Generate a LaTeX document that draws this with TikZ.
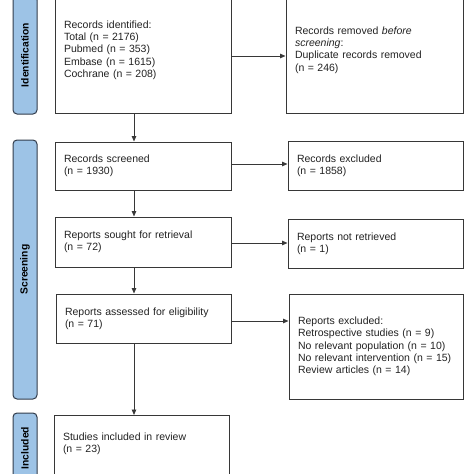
\documentclass[tikz,border=0pt]{standalone}
\usepackage{fontspec}
\setmainfont{Liberation Sans}
\usetikzlibrary{arrows.meta}
\definecolor{barfill}{RGB}{157,195,230}
\definecolor{barline}{RGB}{50,60,75}
\definecolor{boxline}{RGB}{55,55,55}
\definecolor{txt}{RGB}{35,35,35}
\begin{document}
\begin{tikzpicture}[x=1pt,y=-1pt,
  box/.style={draw=boxline, line width=1pt, fill=white, rectangle, align=left,
    inner xsep=9pt, inner ysep=3pt, font=\fontsize{10.5}{12.3}\selectfont, text=txt},
  bar/.style={draw=barline, line width=1pt, fill=barfill, rounded corners=4pt},
  phase/.style={rotate=90, font=\bfseries\fontsize{10.3}{12}\selectfont, text=black},
  arr/.style={draw=boxline, line width=0.9pt, -{Triangle[length=5.5pt,width=4.5pt]}}]
\path[use as bounding box] (0,0) rectangle (474,474);
\clip (0,0) rectangle (474,474);
\fill[white] (0,0) rectangle (474,474);
% phase bars
\draw[bar] (13,-4) rectangle (37,114);
\draw[bar] (13,140) rectangle (37,399);
\draw[bar] (13,413) rectangle (37,484);
\node[phase] (pid) at (25,55) {Identification};
\node[phase] (psc) at (25,269.5) {Screening};
\node[phase] (pin) at (25,448) {Included};
% boxes
\node[box, text width=158pt, minimum height=126pt] (b1) at (143,50)
  {Records identified:\\Total (n = 2176)\\Pubmed (n = 353)\\Embase (n = 1615)\\Cochrane (n = 208)};
\node[box, text width=159pt, minimum height=126pt] (b2) at (374.5,50)
  {Records removed \textit{before}\\\textit{screening}:\\Duplicate records removed\\(n = 246)};
\node[box, text width=158pt, minimum height=48pt] (b3) at (143,166)
  {Records screened\\(n = 1930)};
\node[box, text width=157pt, minimum height=49pt] (b4) at (375.5,165.5)
  {Records excluded\\(n = 1858)};
\node[box, text width=158pt, minimum height=50pt] (b5) at (143,242)
  {Reports sought for retrieval\\(n = 72)};
\node[box, text width=157pt, minimum height=49pt] (b6) at (375.5,243.5)
  {Reports not retrieved\\(n = 1)};
\node[box, text width=157pt, minimum height=49pt] (b7) at (143.5,318.5)
  {Reports assessed for eligibility\\(n = 71)};
\node[box, text width=156pt, minimum height=105pt] (b8) at (376,346.5)
  {Reports excluded:\\Retrospective studies (n = 9)\\No relevant population (n = 10)\\No relevant intervention (n = 15)\\Review articles (n = 14)};
\node[box, text width=157pt, anchor=north, inner ysep=17pt, text depth=40pt] (b9) at (141.5,415)
  {Studies included in review\\(n = 23)};
% arrow guides
\coordinate (vx) at (134,0);
\coordinate (h1) at (0,56);
\coordinate (h2) at (0,164);
\coordinate (h3) at (0,243);
\coordinate (h4) at (0,321);
% arrows
\draw[arr] (b1.south -| vx) -- (b3.north -| vx);
\draw[arr] (b3.south -| vx) -- (b5.north -| vx);
\draw[arr] (b5.south -| vx) -- (b7.north -| vx);
\draw[arr] (b7.south -| vx) -- (b9.north -| vx);
\draw[arr] (b1.east |- h1) -- (b2.west |- h1);
\draw[arr] (b3.east |- h2) -- (b4.west |- h2);
\draw[arr] (b5.east |- h3) -- (b6.west |- h3);
\draw[arr] (b7.east |- h4) -- (b8.west |- h4);
\end{tikzpicture}
\end{document}
